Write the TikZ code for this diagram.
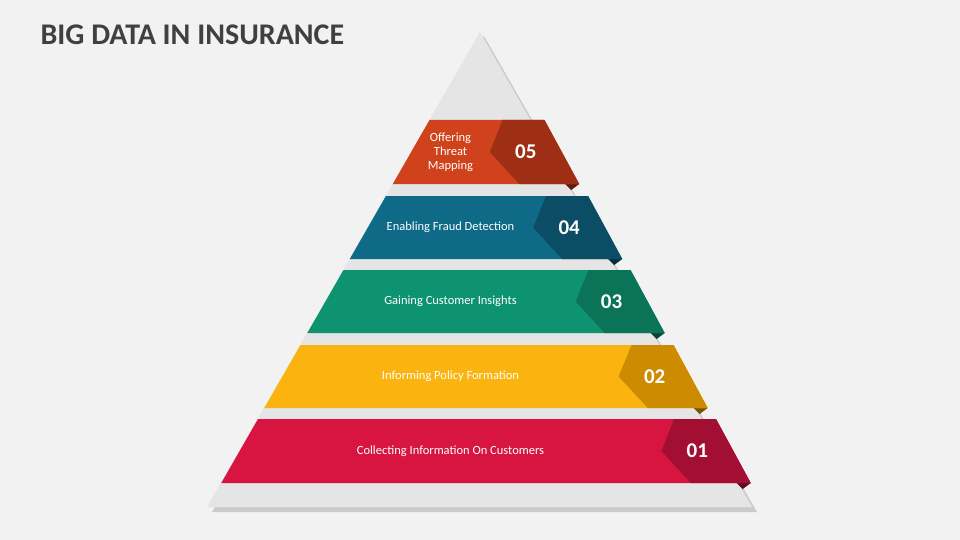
\documentclass[tikz,border=0pt]{standalone}
\usepackage{fontspec}
\setmainfont{Carlito}
\begin{document}
\begin{tikzpicture}[x=1pt,y=-1pt,
  lbl/.style={text=white,font=\fontsize{12.5}{14}\selectfont,align=center},
  num/.style={text=white,font=\bfseries\fontsize{21}{22}\selectfont}]
\definecolor{bg}{HTML}{F2F2F2}
\fill[bg] (0,0) rectangle (960,540);
\node[anchor=west,text=black!75,font=\bfseries\fontsize{30}{32}\selectfont] (title) at (37,35) {BIG DATA IN INSURANCE};
% pyramid
\fill[black!35,opacity=0.5] (484,36) -- (757,512) -- (212,512) -- cycle;
\fill[black!10] (480,32) -- (752,507) -- (207,507) -- cycle;
\def\hw#1{(0.5737*(#1-32))}
\foreach \t/\b/\c/\d/\txt/\n/\nm in {
 120/184/D0421C/9E2F14/{Offering\\Threat\\Mapping}/05/b5,
 196/259/0E6A87/0A4D65/{Enabling Fraud Detection}/04/b4,
 270/333/0E9370/0A7358/{Gaining Customer Insights}/03/b3,
 345/408/FBB40F/CC8B00/{Informing Policy Formation}/02/b2,
 419/483/D81541/A20F32/{Collecting Information On Customers}/01/b1}{
  \definecolor{cA}{HTML}{\c}\definecolor{cB}{HTML}{\d}
  \pgfmathsetmacro\lt{480-0.5737*(\t-32)}
  \pgfmathsetmacro\lb{480-0.5737*(\b-32)}
  \pgfmathsetmacro\rt{480+0.5737*(\t-32)+14}
  \pgfmathsetmacro\rb{480+0.5737*(\b-32)+12}
  \pgfmathsetmacro\m{(\t+\b)/2}
  \pgfmathsetmacro\rm{(\rt+\rb)/2}
  \fill[cB!60!black] (\rb-14,\b) -- (\rb,\b) -- (\rb-8,\b+6) -- cycle;
  \fill[cA] (\lt,\t) -- (\rt,\t) -- (\rb,\b) -- (\lb,\b) -- cycle;
  \fill[cB] (\rt-42,\t) -- (\rt,\t) -- (\rb,\b) -- (\rb-60,\b) -- (\rm-72,\m) -- cycle;
  \node[num] (\nm) at (\rm-36,\m) {\n};
  \node[lbl] (t\nm) at ({(\lt+\lb)/2+(\rm-72-(\lt+\lb)/2)/2},\m) {\txt};
}
\end{tikzpicture}
\end{document}
